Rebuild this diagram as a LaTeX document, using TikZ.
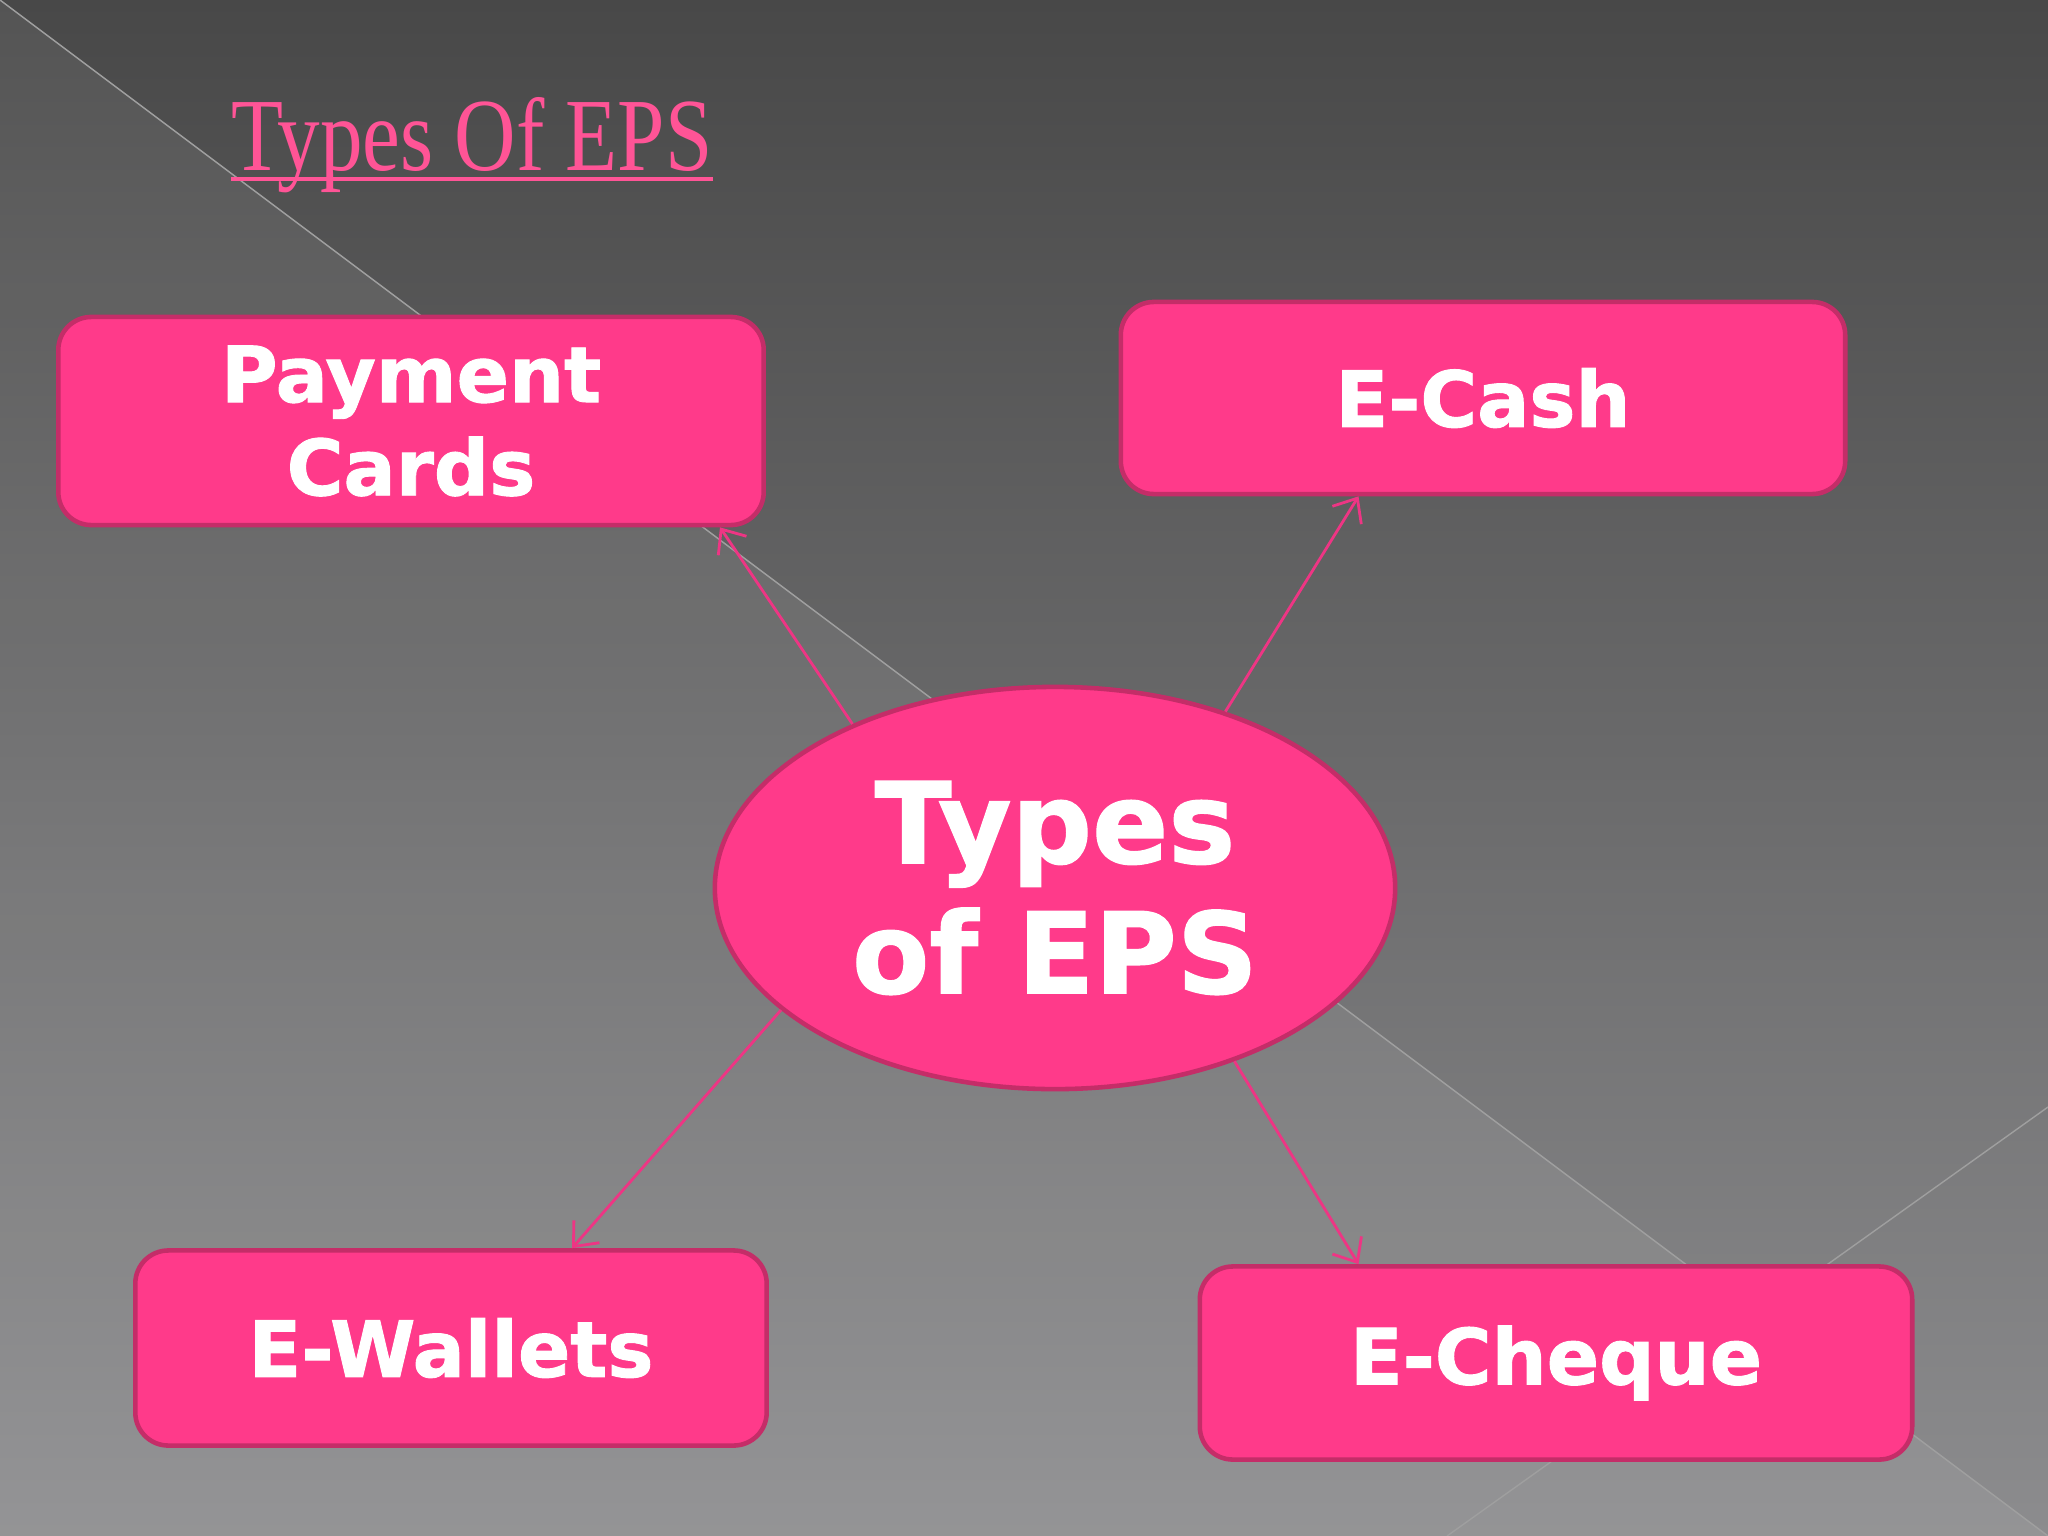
\documentclass[tikz,border=0pt]{standalone}
\usepackage{fontspec}
\usetikzlibrary{arrows.meta, shapes.geometric, calc}
\newfontfamily\boxfont{DejaVu Sans}[BoldFeatures={FakeBold=1.2}]
\newfontfamily\titlefont{Liberation Serif}
\definecolor{epspink}{HTML}{FF3A8A}
\definecolor{epsedge}{HTML}{C42D68}
\definecolor{titlepink}{HTML}{FF5496}
\definecolor{linepink}{HTML}{EE3584}
\definecolor{bgtop}{HTML}{484848}
\definecolor{bgmid}{HTML}{5E5E5F}
\definecolor{bgbottom}{HTML}{8C8C8E}

\begin{document}
\begin{tikzpicture}[x=0.01cm, y=-0.01cm,
    typebox/.style={draw=epsedge, fill=epspink, line width=1.3pt, rounded corners=0.33cm,
      text=white, align=center, inner sep=0pt, font=\boxfont\bfseries\fontsize{22}{26.5}\selectfont},
    link/.style={linepink, line width=0.8pt, -{Straight Barb[length=2mm, width=3.4mm]}},
    seam/.style={draw=gray!75, line width=0.4pt}]
    \useasboundingbox (0,0) rectangle (2048,1536);
    % background
    \shade[top color=bgtop, middle color=bgmid, bottom color=bgbottom] (0,0) rectangle (2048,1536);
    \fill[white, opacity=0.07] (0,0) -- (2048,1536) -- (0,1536) -- cycle;
    \coordinate (tl) at (0,0);
    \coordinate (br) at (2048,1536);
    \coordinate (rt) at (2048,1107);
    \coordinate (bt) at (1447,1536);
    \draw[seam] (tl) -- (br);
    \draw[seam] (rt) -- (bt);

    % title
    \node[inner sep=0pt, anchor=base west, text=titlepink, xscale=0.82, transform shape,
      font=\titlefont\fontsize{29.5}{31}\selectfont] (ttl) at (231,170) {Types Of EPS};
    \draw[titlepink, line width=1.4pt] ($(ttl.base west)+(0,9)$) -- ($(ttl.base east)+(0,9)$);

    % centre and boxes
    \node[ellipse, draw=epsedge, fill=epspink, line width=1.3pt, minimum width=6.8cm, minimum height=4.02cm,
      inner sep=0pt, text=white, align=center, font=\boxfont\bfseries\fontsize{32}{37}\selectfont]
      (eps) at (1055,888) {Types\\of EPS};
    \node[typebox, minimum width=7.05cm, minimum height=2.08cm] (pc) at (411,421) {Payment\\Cards};
    \node[typebox, minimum width=7.24cm, minimum height=1.92cm] (ec) at (1483,398) {E-Cash};
    \node[typebox, minimum width=6.31cm, minimum height=1.95cm] (ew) at (451,1348) {E-Wallets};
    \node[typebox, minimum width=7.12cm, minimum height=1.93cm] (eq) at (1556,1363) {E-Cheque};

    \draw[link] (eps.141) -- ($(pc.south east)+(-46,0)$);
    \draw[link] (eps.46) -- ($(ec.south west)+(240,0)$);
    \draw[link] (eps.204) -- ($(ew.north west)+(439,0)$);
    \draw[link] (eps.316) -- ($(eq.north west)+(161,0)$);
\end{tikzpicture}
\end{document}
